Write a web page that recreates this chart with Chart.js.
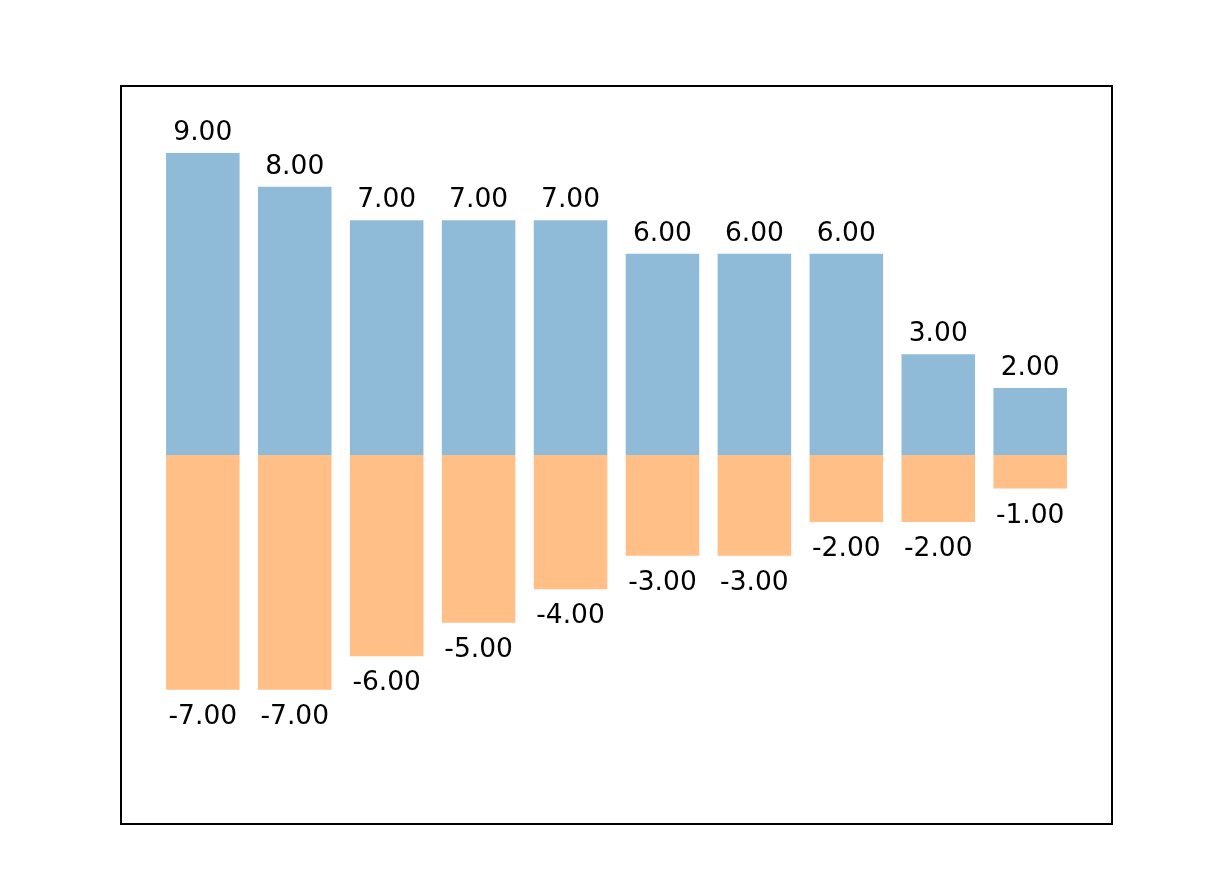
<!DOCTYPE html>
<html>
<head>
<meta charset="utf-8">
<script src="https://cdn.jsdelivr.net/npm/chart.js@4/dist/chart.umd.min.js"></script>
<style>
  body { margin: 0; background: #fff; }
  #wrap { width: 1220px; height: 885px; }
</style>
</head>
<body>
<div id="wrap"><canvas id="chart" width="1220" height="885"></canvas></div>
<script>
// chart data
const positions = [0, 1, 2, 3, 4, 5, 6, 7, 8, 9];
const upperValues = [9, 8, 7, 7, 7, 6, 6, 6, 3, 2];
const lowerValues = [-7, -7, -6, -5, -4, -3, -3, -2, -2, -1];

// value labels above / below each bar
const barLabels = {
    id: "barLabels",
    afterDatasetsDraw(chart) {
        const ctx = chart.ctx;
        ctx.save();
        ctx.font = "26.5px 'DejaVu Sans'";
        ctx.fillStyle = "#000";
        ctx.textAlign = "center";
        ctx.textBaseline = "alphabetic";
        chart.data.datasets.forEach((ds, i) => {
            const meta = chart.getDatasetMeta(i);
            meta.data.forEach((bar, j) => {
                const v = ds.data[j].y;
                const txt = v.toFixed(2);
                if (v >= 0) {
                    ctx.fillText(txt, bar.x, bar.y - 13);
                } else {
                    ctx.fillText(txt, bar.x, bar.y + 34);
                }
            });
        });
        ctx.restore();
    }
};

// black box round the plot area
const frame = {
    id: "frame",
    afterDraw(chart) {
        const a = chart.chartArea;
        const ctx = chart.ctx;
        ctx.save();
        ctx.strokeStyle = "#000";
        ctx.lineWidth = 2;
        ctx.strokeRect(a.left, a.top, a.right - a.left, a.bottom - a.top);
        ctx.restore();
    }
};

// the smallest gap chart.js sees is edge -> first tick (0.89), so scale the 0.8 width up
const barPct = 0.8 / 0.89;

new Chart(document.getElementById("chart"), {
    type: "bar",
    data: {
        datasets: [
            {
                data: positions.map((x, i) => ({ x: x, y: upperValues[i] })),
                backgroundColor: "rgba(31, 119, 180, 0.5)",
                barPercentage: barPct,
                categoryPercentage: 1.0
            },
            {
                data: positions.map((x, i) => ({ x: x, y: lowerValues[i] })),
                backgroundColor: "rgba(255, 127, 14, 0.5)",
                barPercentage: barPct,
                categoryPercentage: 1.0
            }
        ]
    },
    options: {
        responsive: false,
        animation: false,
        devicePixelRatio: 1,
        layout: { padding: { left: 121, top: 86, right: 108, bottom: 61 } },
        plugins: {
            legend: { display: false },
            tooltip: { enabled: false }
        },
        scales: {
            x: {
                type: "linear",
                stacked: true,
                offset: false,
                min: -0.89,
                max: 9.89,
                display: false
            },
            y: {
                stacked: true,
                min: -11,
                max: 11,
                display: false
            }
        }
    },
    plugins: [barLabels, frame]
});
</script>
</body>
</html>
